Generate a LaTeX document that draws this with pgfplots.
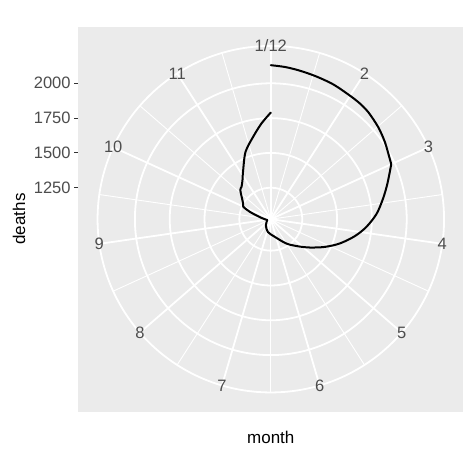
\documentclass[border=0pt]{standalone}
\usepackage{pgfplots}
\pgfplotsset{compat=1.18}
\usepackage{fontspec}
\setmainfont{Liberation Sans}
\usepackage{pgfplotstable}
\definecolor{panelbg}{HTML}{EBEBEB}
\definecolor{grey30}{HTML}{4D4D4D}
\definecolor{grey20}{HTML}{333333}
\tikzset{lab/.style={font=\fontsize{16.5bp}{19bp}\selectfont, text=grey30, inner sep=0pt}}
% traced (month position, deaths) along the curve, in three pieces
\pgfplotstableread{
m d
1.00 2130
1.16 2122
1.32 2112
1.52 2101
1.74 2092
1.92 2081
2.12 2074
2.29 2064
2.51 2040
2.71 2013
2.92 1983
3.00 1975
}\segA
\pgfplotstableread{
m d
3.00 1975
3.23 1900
3.43 1844
3.66 1785
3.89 1713
4.10 1639
4.34 1550
4.58 1460
4.85 1370
5.12 1300
5.50 1232
6.11 1154
6.90 1118
7.70 1080
8.85 1050
}\segB
\pgfplotstableread{
m d
8.85 1050
9.49 1092
9.84 1183
10.00 1242
10.15 1252
10.58 1326
10.71 1337
10.90 1370
11.07 1418
11.37 1540
11.63 1629
11.83 1715
12.00 1790
}\segC
\begin{document}
\begin{tikzpicture}
\path[fill=white] (0,0) rectangle (474bp,474bp);
\begin{axis}[
  at={(78.3bp,62.3bp)}, anchor=south west,
  scale only axis, width=385bp, height=385bp,
  xmin=-1382.5, xmax=1382.5, ymin=-1382.5, ymax=1382.5,
  axis line style={draw=none},
  axis background/.style={fill=panelbg},
  xtick=\empty,
  ytick={226,476,726,976},
  yticklabels={1250,1500,1750,2000},
  ytick pos=left,
  tick align=outside,
  major tick length=4bp,
  ytick style={draw=grey20, line width=1.1bp},
  yticklabel style={font=\fontsize{16.5bp}{19bp}\selectfont, text=grey30, inner sep=0pt, anchor=east, xshift=-3.5bp},
  clip=false,
]
% radial grid circles (r = 1250, 1500, 1750, 2000 and outer 0.45)
\pgfplotsinvokeforeach{31.47,66.28,101.09,135.90,173.25}{
  \draw[white, line width=1.8bp] (axis cs:0,0) circle[radius=#1bp];
}
% minor spokes
\pgfplotsinvokeforeach{0,...,10}{
  \draw[white, line width=0.9bp] (axis cs:0,0) -- ++({90-(#1+0.5)*360/11}:173.25bp);
}
% major spokes
\pgfplotsinvokeforeach{0,...,10}{
  \draw[white, line width=1.8bp] (axis cs:0,0) -- ++({90-#1*360/11}:173.25bp);
}
\addplot[black, line width=2bp, line join=round, line cap=round, mark=none, smooth, tension=0.5]
  table[x expr={(\thisrow{d}-1024)*sin((\thisrow{m}-1)*360/11)},
        y expr={(\thisrow{d}-1024)*cos((\thisrow{m}-1)*360/11)}] {\segA};
\addplot[black, line width=2bp, line join=round, line cap=round, mark=none, smooth, tension=0.5]
  table[x expr={(\thisrow{d}-1024)*sin((\thisrow{m}-1)*360/11)},
        y expr={(\thisrow{d}-1024)*cos((\thisrow{m}-1)*360/11)}] {\segB};
\addplot[black, line width=2bp, line join=round, line cap=round, mark=none, smooth, tension=0.5]
  table[x expr={(\thisrow{d}-1024)*sin((\thisrow{m}-1)*360/11)},
        y expr={(\thisrow{d}-1024)*cos((\thisrow{m}-1)*360/11)}] {\segC};
\path (axis cs:0,0) ++(90:173.25bp) node[lab]{1/12};
\path (axis cs:0,0) ++({90-1*360/11}:173.25bp) node[lab]{2};
\path (axis cs:0,0) ++({90-2*360/11}:173.25bp) node[lab]{3};
\path (axis cs:0,0) ++({90-3*360/11}:173.25bp) node[lab]{4};
\path (axis cs:0,0) ++({90-4*360/11}:173.25bp) node[lab]{5};
\path (axis cs:0,0) ++({90-5*360/11}:173.25bp) node[lab]{6};
\path (axis cs:0,0) ++({90-6*360/11}:173.25bp) node[lab]{7};
\path (axis cs:0,0) ++({90-7*360/11}:173.25bp) node[lab]{8};
\path (axis cs:0,0) ++({90-8*360/11}:173.25bp) node[lab]{9};
\path (axis cs:0,0) ++({90-9*360/11}:173.25bp) node[lab]{10};
\path (axis cs:0,0) ++({90-10*360/11}:173.25bp) node[lab]{11};
\end{axis}
\node[rotate=90, anchor=base, inner sep=0pt, font=\fontsize{17bp}{20bp}\selectfont] at (25bp,255bp) {deaths};
\node[anchor=base, inner sep=0pt, font=\fontsize{17bp}{20bp}\selectfont] at (270.8bp,30.7bp) {month};
\end{tikzpicture}
\end{document}
